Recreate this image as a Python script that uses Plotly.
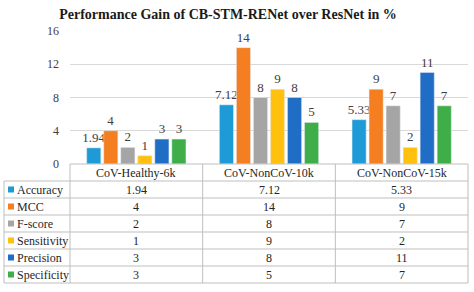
import plotly.graph_objects as go

categories = ["CoV-Healthy-6k", "CoV-NonCoV-10k", "CoV-NonCoV-15k"]
series_names = ["Accuracy", "MCC", "F-score", "Sensitivity", "Precision", "Specificity"]
accuracy = [1.94, 7.12, 5.33]
mcc = [4, 14, 9]
fscore = [2, 8, 7]
sensitivity = [1, 9, 2]
precision = [3, 8, 11]
specificity = [3, 5, 7]
series_values = [accuracy, mcc, fscore, sensitivity, precision, specificity]
colors = ["#1E9AD6", "#F57F20", "#A5A5A5", "#FFC10E", "#1F6DC4", "#3FAE49"]
y_ticks = [0, 4, 8, 12, 16]

W, H = 474, 292
L, R, T, B = 70, 6, 31, 128
PW, PH = W - L - R, H - T - B
FONT = "Liberation Serif, Times New Roman, serif"
GRID = "#D9D9D9"
BORDER = "#BFBFBF"


def fmt(v):
    return f"{v:g}"


def px(x):
    return (x - L) / PW


def py(y):
    return (H - B - y) / PH


fig = go.Figure()
for name, vals, c in zip(series_names, series_values, colors):
    fig.add_trace(go.Bar(
        x=categories, y=vals, name=name, marker_color=c,
        text=[fmt(v) for v in vals], textposition="outside", constraintext="none",
        textfont=dict(family=FONT, size=13, color="#404040"),
        cliponaxis=False, showlegend=False,
    ))

shapes = []
annotations = []
row_h = 17
table_top = H - B  # pixel y of top of table
label_left = 4
col_w = PW / len(categories)
n_rows = len(series_names)
bottom = table_top + row_h * (n_rows + 1)

# horizontal lines
shapes.append(dict(type="line", xref="paper", yref="paper", x0=0, x1=1,
                   y0=py(table_top), y1=py(table_top), line=dict(color=BORDER, width=1)))
for r in range(1, n_rows + 2):
    yy = table_top + r * row_h
    shapes.append(dict(type="line", xref="paper", yref="paper", x0=px(label_left), x1=1,
                       y0=py(yy), y1=py(yy), line=dict(color=BORDER, width=1)))
# vertical lines
shapes.append(dict(type="line", xref="paper", yref="paper", x0=px(label_left), x1=px(label_left),
                   y0=py(table_top + row_h), y1=py(bottom), line=dict(color=BORDER, width=1)))
for i in range(len(categories) + 1):
    xx = L + i * col_w
    shapes.append(dict(type="line", xref="paper", yref="paper", x0=px(xx), x1=px(xx),
                       y0=py(table_top), y1=py(bottom), line=dict(color=BORDER, width=1)))

# header texts
for i, cat in enumerate(categories):
    annotations.append(dict(xref="paper", yref="paper", x=px(L + (i + 0.5) * col_w),
                            y=py(table_top + row_h / 2), text=cat, showarrow=False,
                            font=dict(family=FONT, size=12, color="#262626"),
                            xanchor="center", yanchor="middle"))
# rows
for r, (name, vals, c) in enumerate(zip(series_names, series_values, colors)):
    yc = table_top + (r + 1.5) * row_h
    shapes.append(dict(type="rect", xref="paper", yref="paper",
                       x0=px(8), x1=px(14), y0=py(yc - 3), y1=py(yc + 3),
                       fillcolor=c, line=dict(width=0)))
    annotations.append(dict(xref="paper", yref="paper", x=px(15), y=py(yc), text=name,
                            showarrow=False, xanchor="left", yanchor="middle",
                            font=dict(family=FONT, size=12, color="#262626")))
    for i, v in enumerate(vals):
        annotations.append(dict(xref="paper", yref="paper", x=px(L + (i + 0.5) * col_w),
                                y=py(yc), text=fmt(v), showarrow=False,
                                xanchor="center", yanchor="middle",
                                font=dict(family=FONT, size=12, color="#262626")))

fig.update_layout(
    width=W, height=H,
    margin=dict(l=L, r=R, t=T, b=B),
    paper_bgcolor="white", plot_bgcolor="white",
    barmode="group", bargap=0.23, bargroupgap=0.17,
    title=dict(text="<b>Performance Gain of CB-STM-RENet over ResNet in %</b>",
               x=(228) / W, xanchor="center", y=1 - 14 / H, yanchor="middle",
               font=dict(family=FONT, size=14, color="#1a1a1a")),
    xaxis=dict(showticklabels=False, showgrid=False, zeroline=False, showline=False,
               ticks=""),
    yaxis=dict(range=[0, 16], tickvals=y_ticks, showgrid=True, gridcolor=GRID,
               zeroline=False, showline=False, ticks="", ticklabelstandoff=10,
               tickfont=dict(family=FONT, size=12, color="#404040")),
    shapes=shapes, annotations=annotations,
)

fig.write_html("out.html")
